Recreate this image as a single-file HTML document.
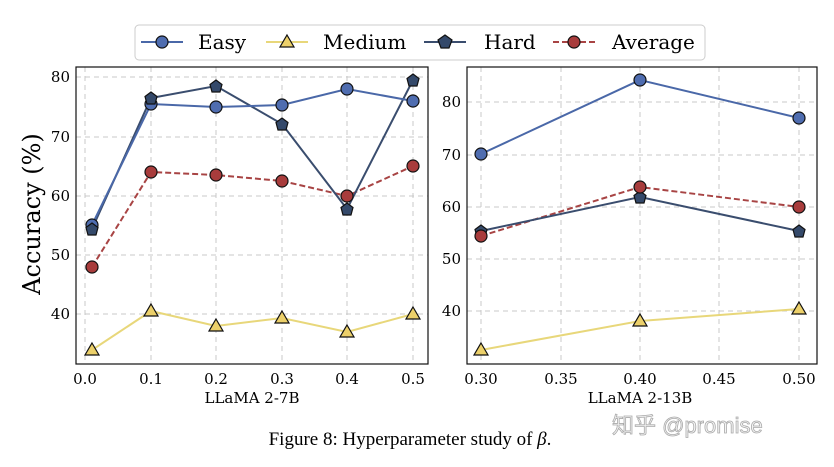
<!DOCTYPE html>
<html><head><meta charset="utf-8"><style>
body{margin:0;background:#fff;width:834px;height:462px;overflow:hidden}
text{font-family:"DejaVu Serif","Liberation Serif",serif}
</style></head><body>
<svg width="834" height="462" xmlns="http://www.w3.org/2000/svg">
<!-- legend -->
<rect x="135" y="25" width="570" height="35" rx="4" fill="#fff" stroke="#ccc"/>
<line x1="141" y1="42" x2="183" y2="42" stroke="#4a68a8" stroke-width="2"/><circle cx="162" cy="42" r="6" fill="#4f6db0" stroke="#111" stroke-width="1.2"/>
<text x="198" y="49" font-size="20">Easy</text>
<line x1="266" y1="42" x2="308" y2="42" stroke="#e8d77a" stroke-width="2"/><polygon points="287,35 294,47 280,47" fill="#ecd06a" stroke="#111" stroke-width="1.2"/>
<text x="323" y="49" font-size="20">Medium</text>
<line x1="424" y1="42" x2="466" y2="42" stroke="#3a4d6e" stroke-width="2"/><polygon points="445,35 452,40 449,48 441,48 438,40" fill="#34496a" stroke="#111" stroke-width="1.2"/>
<text x="484" y="49" font-size="20">Hard</text>
<line x1="553" y1="42" x2="595" y2="42" stroke="#a84444" stroke-width="2" stroke-dasharray="6,3"/><circle cx="574" cy="42" r="6" fill="#a83c3c" stroke="#111" stroke-width="1.2"/>
<text x="612" y="49" font-size="20">Average</text>

<!-- left plot -->
<g stroke="#c8c8c8" stroke-dasharray="5,4" stroke-width="1">
<line x1="85" y1="67" x2="85" y2="364"/><line x1="151" y1="67" x2="151" y2="364"/><line x1="216" y1="67" x2="216" y2="364"/><line x1="282" y1="67" x2="282" y2="364"/><line x1="347" y1="67" x2="347" y2="364"/><line x1="413" y1="67" x2="413" y2="364"/>
<line x1="76" y1="77" x2="428" y2="77"/><line x1="76" y1="137" x2="428" y2="137"/><line x1="76" y1="196" x2="428" y2="196"/><line x1="76" y1="255" x2="428" y2="255"/><line x1="76" y1="314" x2="428" y2="314"/>
</g>
<rect x="76" y="67" width="352" height="297" fill="none" stroke="#111" stroke-width="1.2"/>
<g font-size="15" text-anchor="end"><text x="70" y="82">80</text><text x="70" y="142">70</text><text x="70" y="201">60</text><text x="70" y="260">50</text><text x="70" y="319">40</text></g>
<g font-size="15" text-anchor="middle"><text x="85" y="384">0.0</text><text x="151" y="384">0.1</text><text x="216" y="384">0.2</text><text x="282" y="384">0.3</text><text x="347" y="384">0.4</text><text x="413" y="384">0.5</text>
<text x="252" y="403" font-size="15">LLaMA 2-7B</text></g>
<text transform="translate(40,214) rotate(-90)" font-size="24" text-anchor="middle">Accuracy (%)</text>

<polyline points="92,350 151,311 216,326 282,318 347,332 413,314" fill="none" stroke="#e8d77a" stroke-width="2"/>
<polyline points="92,267 151,172 216,175 282,181 347,196 413,166" fill="none" stroke="#a84444" stroke-width="2" stroke-dasharray="6,3"/>
<polyline points="92,229 151,98 216,86 282,124 347,209 413,80" fill="none" stroke="#3a4d6e" stroke-width="2"/>
<polyline points="92,225 151,104 216,107 282,105 347,89 413,101" fill="none" stroke="#4a68a8" stroke-width="2"/>
<g fill="#ecd06a" stroke="#111" stroke-width="1.2">
<polygon points="92,343 99,355 85,355"/><polygon points="151,304 158,316 144,316"/><polygon points="216,319 223,331 209,331"/><polygon points="282,311 289,323 275,323"/><polygon points="347,325 354,337 340,337"/><polygon points="413,307 420,319 406,319"/></g>
<g fill="#a83c3c" stroke="#111" stroke-width="1.2"><circle cx="92" cy="267" r="6"/><circle cx="151" cy="172" r="6"/><circle cx="216" cy="175" r="6"/><circle cx="282" cy="181" r="6"/><circle cx="347" cy="196" r="6"/><circle cx="413" cy="166" r="6"/></g>
<g fill="#4f6db0" stroke="#111" stroke-width="1.2"><circle cx="92" cy="225" r="6"/><circle cx="151" cy="104" r="6"/><circle cx="216" cy="107" r="6"/><circle cx="282" cy="105" r="6"/><circle cx="347" cy="89" r="6"/><circle cx="413" cy="101" r="6"/></g>
<g fill="#34496a" stroke="#111" stroke-width="1.2">
<polygon points="0,-6 6,-1.5 4,6 -4,6 -6,-1.5" transform="translate(92,229)"/><polygon points="0,-6 6,-1.5 4,6 -4,6 -6,-1.5" transform="translate(151,98)"/><polygon points="0,-6 6,-1.5 4,6 -4,6 -6,-1.5" transform="translate(216,86)"/><polygon points="0,-6 6,-1.5 4,6 -4,6 -6,-1.5" transform="translate(282,124)"/><polygon points="0,-6 6,-1.5 4,6 -4,6 -6,-1.5" transform="translate(347,209)"/><polygon points="0,-6 6,-1.5 4,6 -4,6 -6,-1.5" transform="translate(413,80)"/></g>

<!-- right plot -->
<g stroke="#c8c8c8" stroke-dasharray="5,4" stroke-width="1">
<line x1="481" y1="67" x2="481" y2="364"/><line x1="561" y1="67" x2="561" y2="364"/><line x1="640" y1="67" x2="640" y2="364"/><line x1="719" y1="67" x2="719" y2="364"/><line x1="799" y1="67" x2="799" y2="364"/>
<line x1="467" y1="102" x2="817" y2="102"/><line x1="467" y1="155" x2="817" y2="155"/><line x1="467" y1="207" x2="817" y2="207"/><line x1="467" y1="259" x2="817" y2="259"/><line x1="467" y1="311" x2="817" y2="311"/>
</g>
<rect x="467" y="67" width="350" height="297" fill="none" stroke="#111" stroke-width="1.2"/>
<g font-size="15" text-anchor="end"><text x="461" y="107">80</text><text x="461" y="160">70</text><text x="461" y="212">60</text><text x="461" y="264">50</text><text x="461" y="316">40</text></g>
<g font-size="15" text-anchor="middle"><text x="481" y="384">0.30</text><text x="561" y="384">0.35</text><text x="640" y="384">0.40</text><text x="719" y="384">0.45</text><text x="799" y="384">0.50</text>
<text x="640" y="403">LLaMA 2-13B</text></g>
<polyline points="481,350 640,321 799,309" fill="none" stroke="#e8d77a" stroke-width="2"/>
<polyline points="481,236 640,187 799,207" fill="none" stroke="#a84444" stroke-width="2" stroke-dasharray="6,3"/>
<polyline points="481,231 640,197 799,231" fill="none" stroke="#3a4d6e" stroke-width="2"/>
<polyline points="481,154 640,80 799,118" fill="none" stroke="#4a68a8" stroke-width="2"/>
<g fill="#ecd06a" stroke="#111" stroke-width="1.2"><polygon points="481,343 488,355 474,355"/><polygon points="640,314 647,326 633,326"/><polygon points="799,302 806,314 792,314"/></g>
<g fill="#34496a" stroke="#111" stroke-width="1.2">
<polygon points="0,-6 6,-1.5 4,6 -4,6 -6,-1.5" transform="translate(481,231)"/><polygon points="0,-6 6,-1.5 4,6 -4,6 -6,-1.5" transform="translate(640,197)"/><polygon points="0,-6 6,-1.5 4,6 -4,6 -6,-1.5" transform="translate(799,231)"/></g>
<g fill="#a83c3c" stroke="#111" stroke-width="1.2"><circle cx="481" cy="236" r="6"/><circle cx="640" cy="187" r="6"/><circle cx="799" cy="207" r="6"/></g>
<g fill="#4f6db0" stroke="#111" stroke-width="1.2"><circle cx="481" cy="154" r="6"/><circle cx="640" cy="80" r="6"/><circle cx="799" cy="118" r="6"/></g>

<text x="410" y="445" font-size="19" text-anchor="middle" style="font-family:'Liberation Serif',serif">Figure 8: Hyperparameter study of <tspan font-style="italic">β</tspan>.</text>
<text x="612" y="433" font-size="22" fill="#f4f4f4" stroke="#aaa" stroke-width="0.8" style="font-family:'Liberation Sans','Noto Sans CJK SC',sans-serif">知乎 @promise</text>
</svg>
</body></html>
